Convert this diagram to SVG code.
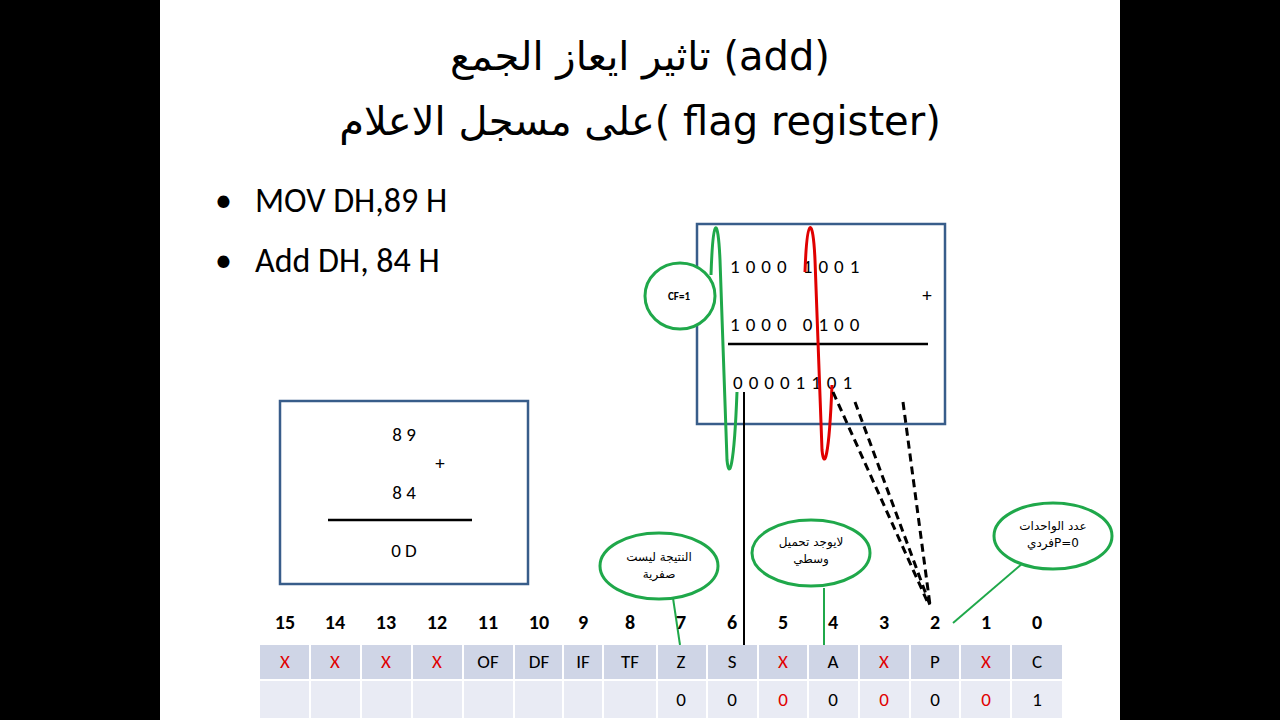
<svg xmlns="http://www.w3.org/2000/svg" width="1280" height="720" viewBox="0 0 1280 720">
<style>
text{font-family:Calibri,"Liberation Sans","Noto Sans",sans-serif;fill:#000}
.ar{font-family:"DejaVu Sans","Noto Sans",sans-serif}
.box{fill:none;stroke:#385d8a;stroke-width:2.5}
.ell{fill:#fff;stroke:#1fa84a;stroke-width:3}
.g{stroke:#1fa84a;stroke-width:2;fill:none}
.hd{font-size:20px;font-weight:bold;text-anchor:middle}
.c{font-size:19px;text-anchor:middle}
.r{fill:#e00000}
.bin{font-size:19px;letter-spacing:6px}
</style>
<rect width="1280" height="720" fill="#000"/>
<rect x="160" width="960" height="720" fill="#fff"/>
<text class="ar" x="640" y="70" font-size="40" text-anchor="middle">تاثير ايعاز الجمع (add)</text>
<text class="ar" x="640" y="135" font-size="40" text-anchor="middle">على مسجل الاعلام( flag register)</text>
<text x="215" y="212" font-size="34">•</text><text x="255" y="212" font-size="34">MOV DH,89 H</text>
<text x="215" y="272" font-size="34">•</text><text x="255" y="272" font-size="34">Add DH, 84 H</text>
<g id="box1"><rect class="box" x="697" y="224" width="248" height="200"/>
<text class="bin" x="730" y="273">1000 1001</text>
<text class="bin" x="730" y="331">1000 0100</text>
<text class="bin" x="733" y="389">00001101</text>
<text x="927" y="302" font-size="19" text-anchor="middle">+</text>
<line x1="728" y1="344" x2="928" y2="344" stroke="#000" stroke-width="2.5"/></g>
<g id="box2"><rect class="box" x="280" y="401" width="248" height="183"/>
<text x="404" y="441" font-size="19" text-anchor="middle">8 9</text>
<text x="440" y="470" font-size="19" text-anchor="middle">+</text>
<text x="404" y="499" font-size="19" text-anchor="middle">8 4</text>
<line x1="328" y1="520" x2="472" y2="520" stroke="#000" stroke-width="2.5"/>
<text x="404" y="557" font-size="19" text-anchor="middle">0 D</text></g>
<g id="connectors">
<path d="M711,275 C713,215 718,215 720,260 L727,460 C729,480 734,470 737,392" stroke="#1fa84a" stroke-width="3" fill="none"/>
<path d="M805,272 C807,215 813,215 815,260 L822,450 C824,470 829,460 832,385" stroke="#e00000" stroke-width="3" fill="none"/>
<g stroke="#000" stroke-width="3" stroke-dasharray="8,5" fill="none">
<line x1="833" y1="392" x2="928" y2="603"/><line x1="855" y1="402" x2="930" y2="605"/><line x1="903" y1="402" x2="930" y2="605"/></g>
<line x1="744" y1="392" x2="744" y2="647" stroke="#000" stroke-width="2"/>
<line class="g" x1="673" y1="598" x2="680" y2="645"/>
<line class="g" x1="824" y1="588" x2="824" y2="645"/>
<line class="g" x1="953" y1="623" x2="1023" y2="563"/>
</g>
<g id="cf"><ellipse class="ell" cx="680" cy="296" rx="35" ry="33"/><text x="679" y="300" font-size="11" font-weight="bold" text-anchor="middle">CF=1</text></g>
<g id="n1"><ellipse class="ell" cx="659" cy="566" rx="59" ry="33"/><text class="ar" x="659" y="561" font-size="12" text-anchor="middle">النتيجة ليست</text><text class="ar" x="659" y="578" font-size="12" text-anchor="middle">صفرية</text></g>
<g id="n2"><ellipse class="ell" cx="811" cy="553" rx="59" ry="33"/><text class="ar" x="811" y="546" font-size="12" text-anchor="middle">لايوجد تحميل</text><text class="ar" x="811" y="563" font-size="12" text-anchor="middle">وسطي</text></g>
<g id="n3"><ellipse class="ell" cx="1053" cy="536" rx="59" ry="33"/><text class="ar" x="1053" y="530" font-size="12" text-anchor="middle">عدد الواحدات</text><text class="ar" x="1053" y="547" font-size="12" text-anchor="middle">فرديP=0</text></g>
<g id="table">
<rect x="260" y="645" width="802" height="35" fill="#cfd5e6"/>
<rect x="260" y="680" width="802" height="38" fill="#e9ebf4"/>
<g stroke="#fff" stroke-width="2">
<line x1="310" y1="645" x2="310" y2="718"/><line x1="361" y1="645" x2="361" y2="718"/><line x1="412" y1="645" x2="412" y2="718"/><line x1="463" y1="645" x2="463" y2="718"/><line x1="514" y1="645" x2="514" y2="718"/><line x1="563" y1="645" x2="563" y2="718"/><line x1="603" y1="645" x2="603" y2="718"/><line x1="657" y1="645" x2="657" y2="718"/><line x1="707" y1="645" x2="707" y2="718"/><line x1="758" y1="645" x2="758" y2="718"/><line x1="808" y1="645" x2="808" y2="718"/><line x1="859" y1="645" x2="859" y2="718"/><line x1="910" y1="645" x2="910" y2="718"/><line x1="960" y1="645" x2="960" y2="718"/><line x1="1011" y1="645" x2="1011" y2="718"/><line x1="260" y1="680" x2="1062" y2="680"/></g>
<text class="hd" x="285" y="629">15</text><text class="hd" x="335" y="629">14</text><text class="hd" x="386" y="629">13</text><text class="hd" x="437" y="629">12</text><text class="hd" x="488" y="629">11</text><text class="hd" x="539" y="629">10</text><text class="hd" x="583" y="629">9</text><text class="hd" x="630" y="629">8</text><text class="hd" x="681" y="629">7</text><text class="hd" x="732" y="629">6</text><text class="hd" x="783" y="629">5</text><text class="hd" x="833" y="629">4</text><text class="hd" x="884" y="629">3</text><text class="hd" x="935" y="629">2</text><text class="hd" x="986" y="629">1</text><text class="hd" x="1037" y="629">0</text>
<text class="c r" x="285" y="668">X</text><text class="c r" x="335" y="668">X</text><text class="c r" x="386" y="668">X</text><text class="c r" x="437" y="668">X</text><text class="c" x="488" y="668">OF</text><text class="c" x="539" y="668">DF</text><text class="c" x="583" y="668">IF</text><text class="c" x="630" y="668">TF</text><text class="c" x="681" y="668">Z</text><text class="c" x="732" y="668">S</text><text class="c r" x="783" y="668">X</text><text class="c" x="833" y="668">A</text><text class="c r" x="884" y="668">X</text><text class="c" x="935" y="668">P</text><text class="c r" x="986" y="668">X</text><text class="c" x="1037" y="668">C</text>
<text class="c" x="681" y="706">0</text><text class="c" x="732" y="706">0</text><text class="c r" x="783" y="706">0</text><text class="c" x="833" y="706">0</text><text class="c r" x="884" y="706">0</text><text class="c" x="935" y="706">0</text><text class="c r" x="986" y="706">0</text><text class="c" x="1037" y="706">1</text>
</g>
</svg>
